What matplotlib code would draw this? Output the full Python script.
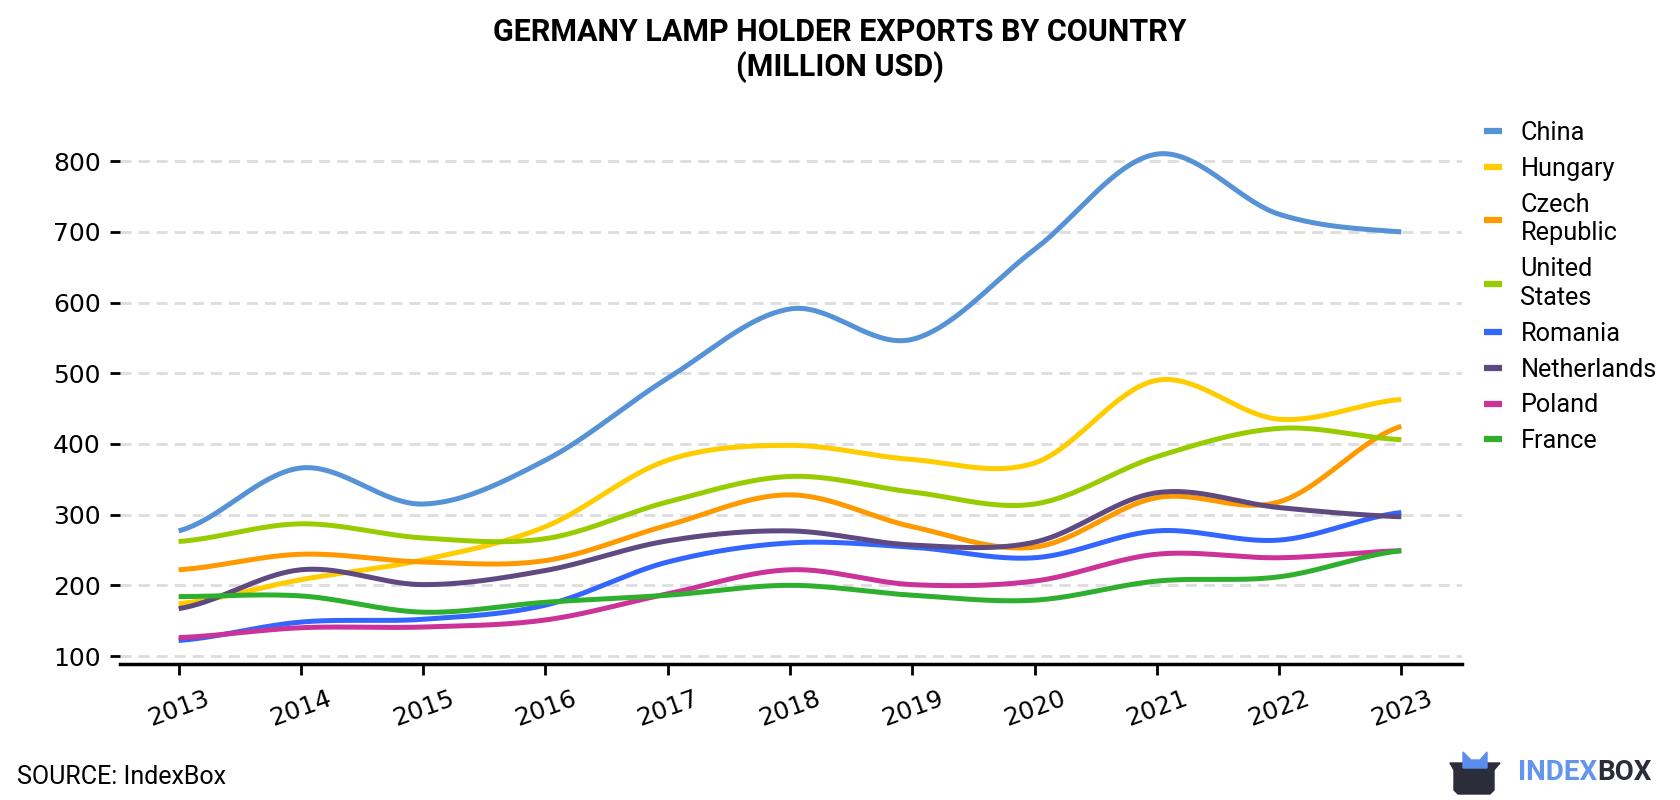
import numpy as np
import matplotlib
matplotlib.use("Agg")
import matplotlib.pyplot as plt
from matplotlib.patches import Polygon
from matplotlib.transforms import Affine2D

years = [2013, 2014, 2015, 2016, 2017, 2018, 2019, 2020, 2021, 2022, 2023]

china = [277, 366, 315, 377, 493, 591, 548, 675, 810, 725, 700]
hungary = [174, 208, 236, 283, 377, 398, 378, 373, 490, 435, 463]
czech = [222, 244, 233, 235, 285, 328, 283, 254, 324, 318, 425]
united_states = [262, 287, 267, 266, 318, 354, 332, 315, 382, 422, 406]
romania = [122, 148, 152, 172, 233, 260, 254, 239, 277, 264, 303]
netherlands = [167, 222, 201, 221, 263, 277, 257, 261, 331, 310, 297]
poland = [126, 140, 141, 151, 188, 222, 201, 206, 244, 239, 249]
france = [184, 185, 162, 176, 186, 200, 186, 179, 206, 212, 249]

series = [
    ("China", china, "#5692d6"),
    ("Hungary", hungary, "#ffcc00"),
    ("Czech\nRepublic", czech, "#ff9900"),
    ("United\nStates", united_states, "#99cc00"),
    ("Romania", romania, "#3366ff"),
    ("Netherlands", netherlands, "#5e4a80"),
    ("Poland", poland, "#cc3399"),
    ("France", france, "#2eaf2e"),
]


def smooth(xs, ys, n=40):
    # catmull-rom style curve through the points, only for drawing
    xs = np.asarray(xs, float)
    ys = np.asarray(ys, float)
    m = np.zeros_like(ys)
    m[1:-1] = (ys[2:] - ys[:-2]) / 2
    m[0] = (ys[1] - ys[0]) / 2
    m[-1] = (ys[-1] - ys[-2]) / 2
    out_x, out_y = [], []
    for i in range(len(xs) - 1):
        t = np.linspace(0, 1, n)
        h00 = 2 * t**3 - 3 * t**2 + 1
        h10 = t**3 - 2 * t**2 + t
        h01 = -2 * t**3 + 3 * t**2
        h11 = t**3 - t**2
        out_y.append(h00 * ys[i] + h10 * m[i] + h01 * ys[i + 1] + h11 * m[i + 1])
        out_x.append(xs[i] + t * (xs[i + 1] - xs[i]))
    return np.concatenate(out_x), np.concatenate(out_y)


fig = plt.figure(figsize=(16.8, 8), dpi=100)
ax = fig.add_axes([0.0714, 0.17, 0.7991, 0.655])

for label, vals, color in series:
    sx, sy = smooth(years, vals)
    ax.plot(sx, sy, color=color, linewidth=3.6, label=label, solid_capstyle="butt")

ax.set_xlim(2012.52, 2023.5)
ax.set_ylim(88.7, 830)
ax.set_xticks(years)
ax.set_yticks([100, 200, 300, 400, 500, 600, 700, 800])
ax.grid(True, axis="y", color="#dddddd", linestyle=(0, (4, 2.5)), linewidth=2)
ax.set_axisbelow(True)
for s in ["top", "right", "left"]:
    ax.spines[s].set_visible(False)
ax.spines["bottom"].set_linewidth(2.5)
ax.tick_params(axis="y", length=7, width=2, pad=7, labelsize=18)
ax.tick_params(axis="x", length=8, width=2, pad=8, labelsize=18)
for lab in ax.get_xticklabels():
    lab.set_rotation(20)
    lab.set_ha("center")

fig.text(0.5, 1 - 17 / 800, "GERMANY LAMP HOLDER EXPORTS BY COUNTRY\n(MILLION USD)",
         ha="center", va="top", fontsize=22, fontweight="bold", family="Roboto",
         linespacing=1.17)

leg = ax.legend(loc="upper left", bbox_to_anchor=(1484 / 1680, 1 - 121 / 800),
                bbox_transform=fig.transFigure, frameon=False, borderpad=0,
                borderaxespad=0, handlelength=0.72, handletextpad=0.72,
                labelspacing=0.47, prop={"family": "Roboto", "size": 18.2})
for line in leg.get_lines():
    line.set_linewidth(4.5)
for t in leg.get_texts():
    t.set_linespacing(1.24)

fig.text(17 / 1680, 1 - 777 / 800, "SOURCE: IndexBox", ha="left", va="center",
         fontsize=18, family="Roboto")

# logo
flip = Affine2D().scale(1, -1).translate(0, 800)
ears = Polygon([(1463, 768), (1463, 752), (1471, 760), (1480, 760), (1487, 752),
                (1487, 768)], closed=True, color="#5b8def")
box = Polygon([(1450, 763), (1500, 763), (1494, 770), (1494, 790), (1490, 794),
               (1458, 794), (1454, 790), (1454, 770)], closed=True, color="#2b2d3a")
for p in (box, ears):
    p.set_transform(flip)
    fig.add_artist(p)
t1 = fig.text(1518 / 1680, 1 - 773 / 800, "INDEX", ha="left", va="center", fontsize=20,
              fontweight="bold", family="Roboto", color="#6495ed")
fig.canvas.draw()
x1 = t1.get_window_extent().x1 / 1680
fig.text(x1, 1 - 773 / 800, "BOX", ha="left", va="center", fontsize=20,
         fontweight="bold", family="Roboto", color="#2b2d3a")

fig.savefig("out.png", dpi=100)
